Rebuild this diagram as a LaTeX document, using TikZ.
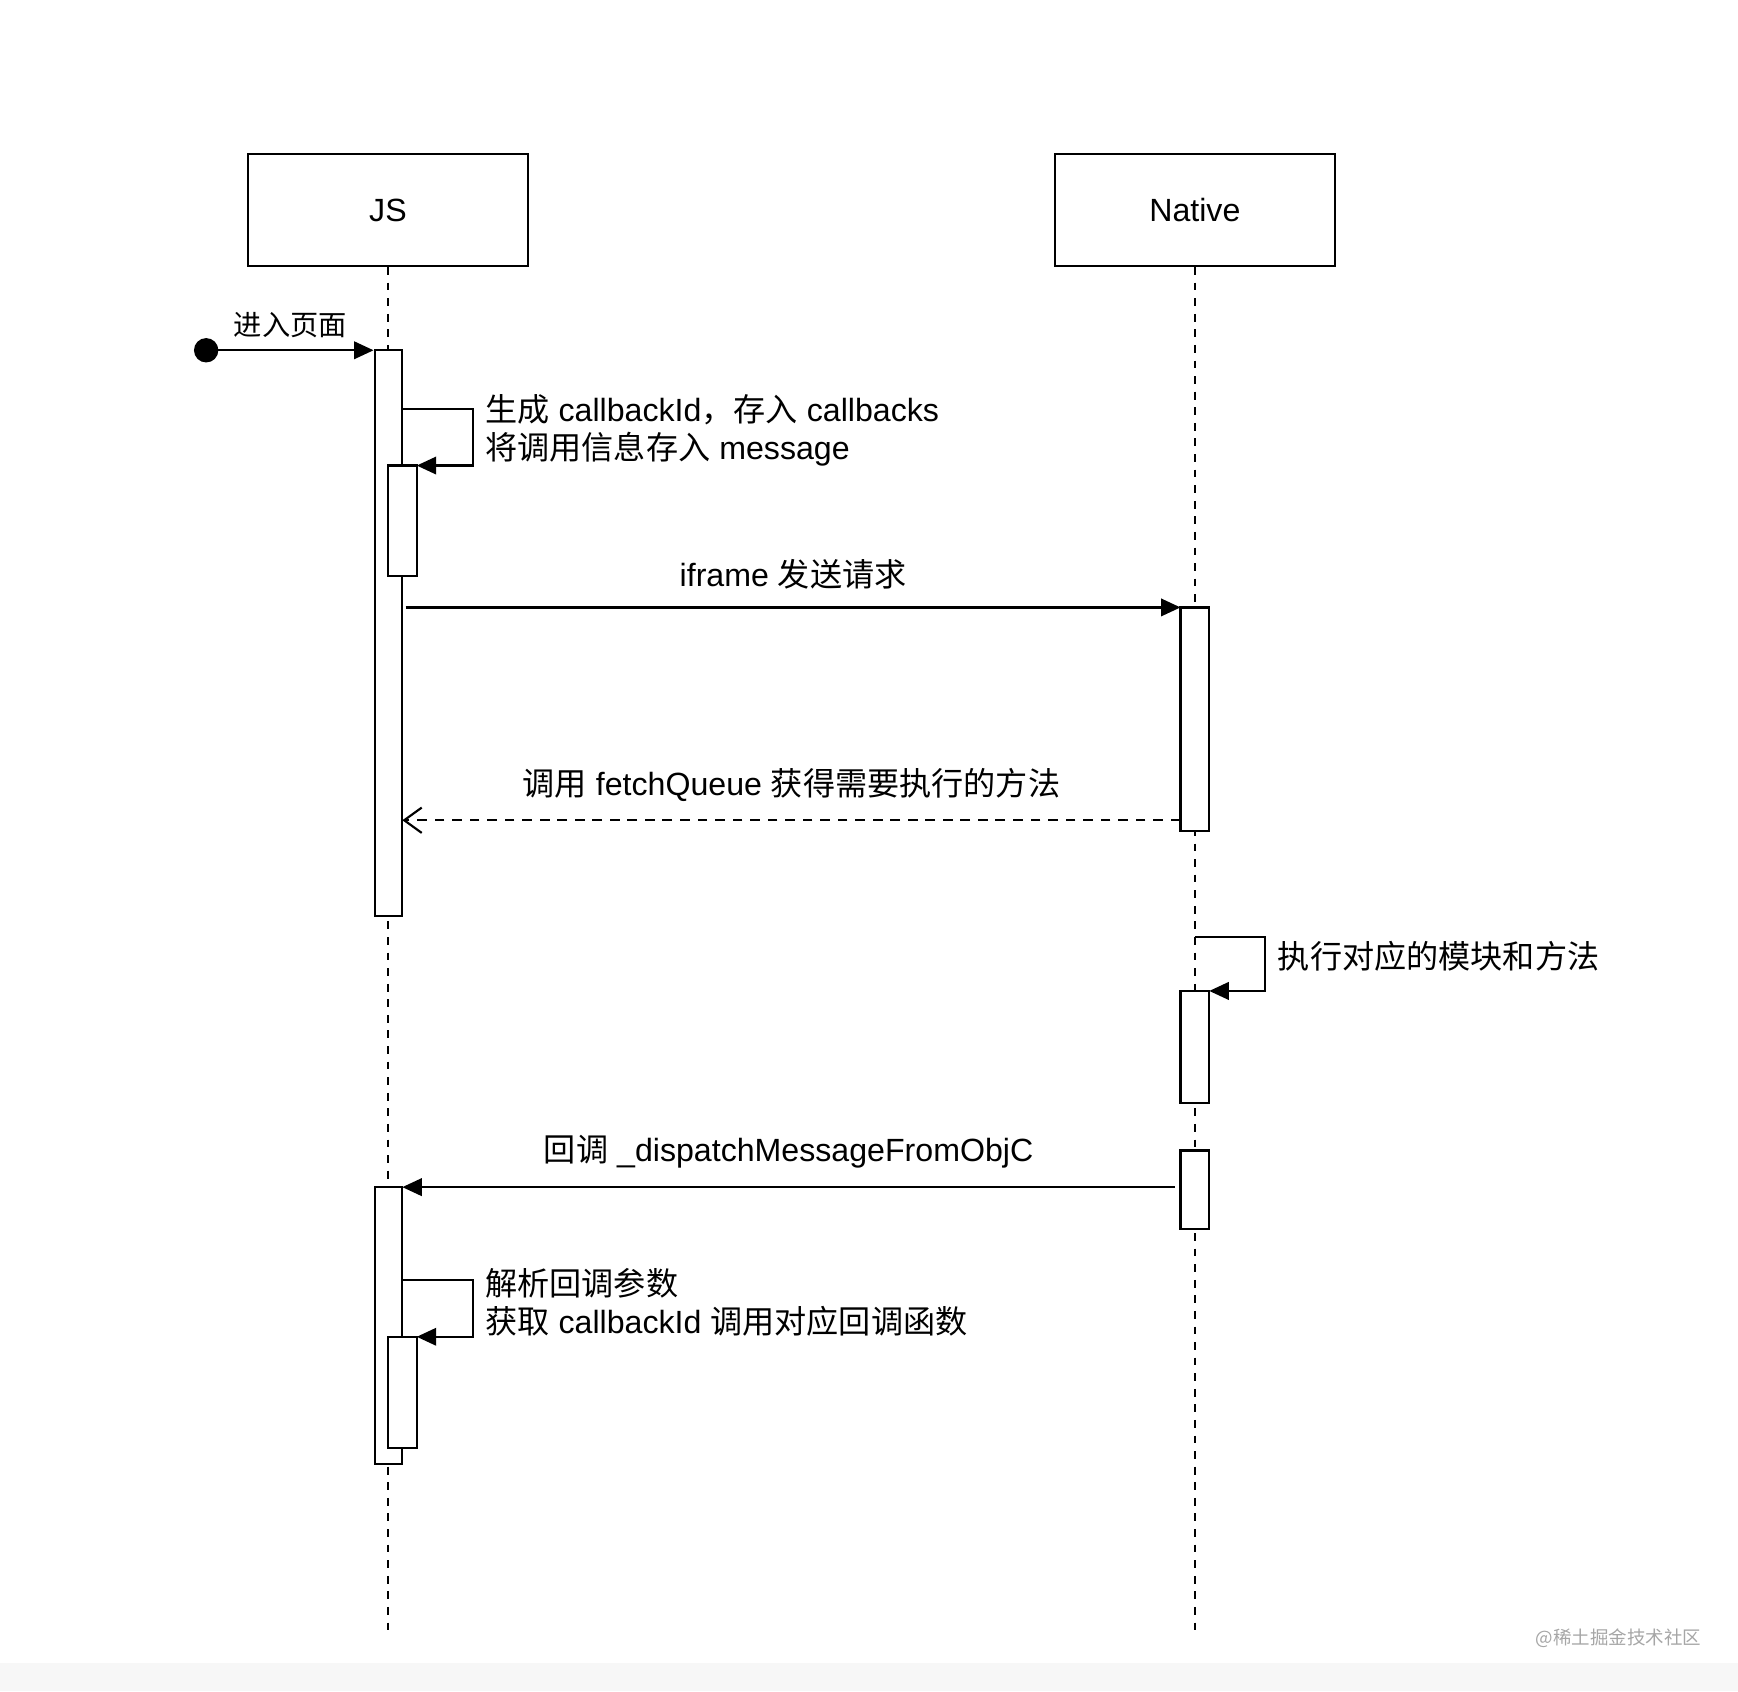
\documentclass[tikz,border=0pt]{standalone}
\usepackage{fontspec}
\setmainfont{Liberation Sans}
\newfontfamily\cjk{Noto Sans CJK SC}
\usetikzlibrary{arrows.meta}
\begin{document}
\begin{tikzpicture}[x=0.02cm,y=-0.02cm,line width=1.1pt,
  box/.style={draw,fill=white,minimum width=5.06cm,minimum height=2.02cm,font=\fontsize{16.5}{19}\selectfont},
  act/.style={draw,fill=white},
  life/.style={dash pattern=on 4pt off 4pt,line width=0.9pt},
  msg/.style={-{Triangle[length=10pt,width=9pt]}},
  ret/.style={-{Straight Barb[length=9pt,width=13pt]},dash pattern=on 5pt off 4pt},
  lbl/.style={font=\fontsize{16.5}{19.5}\selectfont,align=left,inner sep=0pt}]
\useasboundingbox (0,0) rectangle (1568,1526);
\fill[gray!6] (0,1500) rectangle (1568,1526);
\node[box] (js) at (350,189.5) {JS};
\node[box] (na) at (1078,189.5) {Native};
\coordinate (jsend) at (350,1475);
\coordinate (naend) at (1078,1475);
\draw[life] (js.south) -- (jsend);
\draw[life] (na.south) -- (naend);
% activations
\draw[act] (338,316) rectangle (363,826);
\draw[act] (350,420) rectangle (376,520);
\draw[act] (1065,548) rectangle (1091,750);
\draw[act] (1065,894) rectangle (1091,995);
\draw[act] (1065,1038) rectangle (1091,1109);
\draw[act] (338,1071) rectangle (363,1321);
\draw[act] (350,1206) rectangle (376,1306);
% start
\fill (186,316) circle (11);
\coordinate (s0) at (186,316);
\coordinate (s1) at (337,316);
\draw[msg] (s0) -- (s1);
\node[lbl,font=\fontsize{14.5}{16}\cjk] at (262,293) {进入页面};
% self call 1
\coordinate (a0) at (363,369);
\coordinate (a1) at (376,420);
\draw[msg] (a0) -- (427,369) -- (427,420) -- (a1);
\node[lbl,anchor=west] at (437,388) {{\cjk 生成} callbackId{\cjk ，存入} callbacks\\{\cjk 将调用信息存入} message};
% iframe
\coordinate (b0) at (366,548);
\coordinate (b1) at (1065,548);
\draw[msg] (b0) -- (b1) node[lbl,midway,above=9pt] {iframe {\cjk 发送请求}};
% return
\coordinate (c0) at (1065,740);
\coordinate (c1) at (363,740);
\draw[ret] (c0) -- (c1) node[lbl,midway,above=9pt] {{\cjk 调用} fetchQueue {\cjk 获得需要执行的方法}};
% native self call
\coordinate (d0) at (1078,845);
\coordinate (d1) at (1091,894);
\draw[msg] (d0) -- (1141,845) -- (1141,894) -- (d1);
\node[lbl,anchor=west] at (1152,863) {\cjk 执行对应的模块和方法};
% callback
\coordinate (e0) at (1060,1071);
\coordinate (e1) at (363,1071);
\draw[msg] (e0) -- (e1) node[lbl,midway,above=9pt] {{\cjk 回调} \_dispatchMessageFromObjC};
% self call 2
\coordinate (f0) at (363,1155);
\coordinate (f1) at (376,1206);
\draw[msg] (f0) -- (427,1155) -- (427,1206) -- (f1);
\node[lbl,anchor=west] at (437,1175) {{\cjk 解析回调参数}\\{\cjk 获取} callbackId {\cjk 调用对应回调函数}};
\node[font=\fontsize{9.5}{12}\cjk,text=gray!70] at (1460,1478) {@稀土掘金技术社区};
\end{tikzpicture}
\end{document}
